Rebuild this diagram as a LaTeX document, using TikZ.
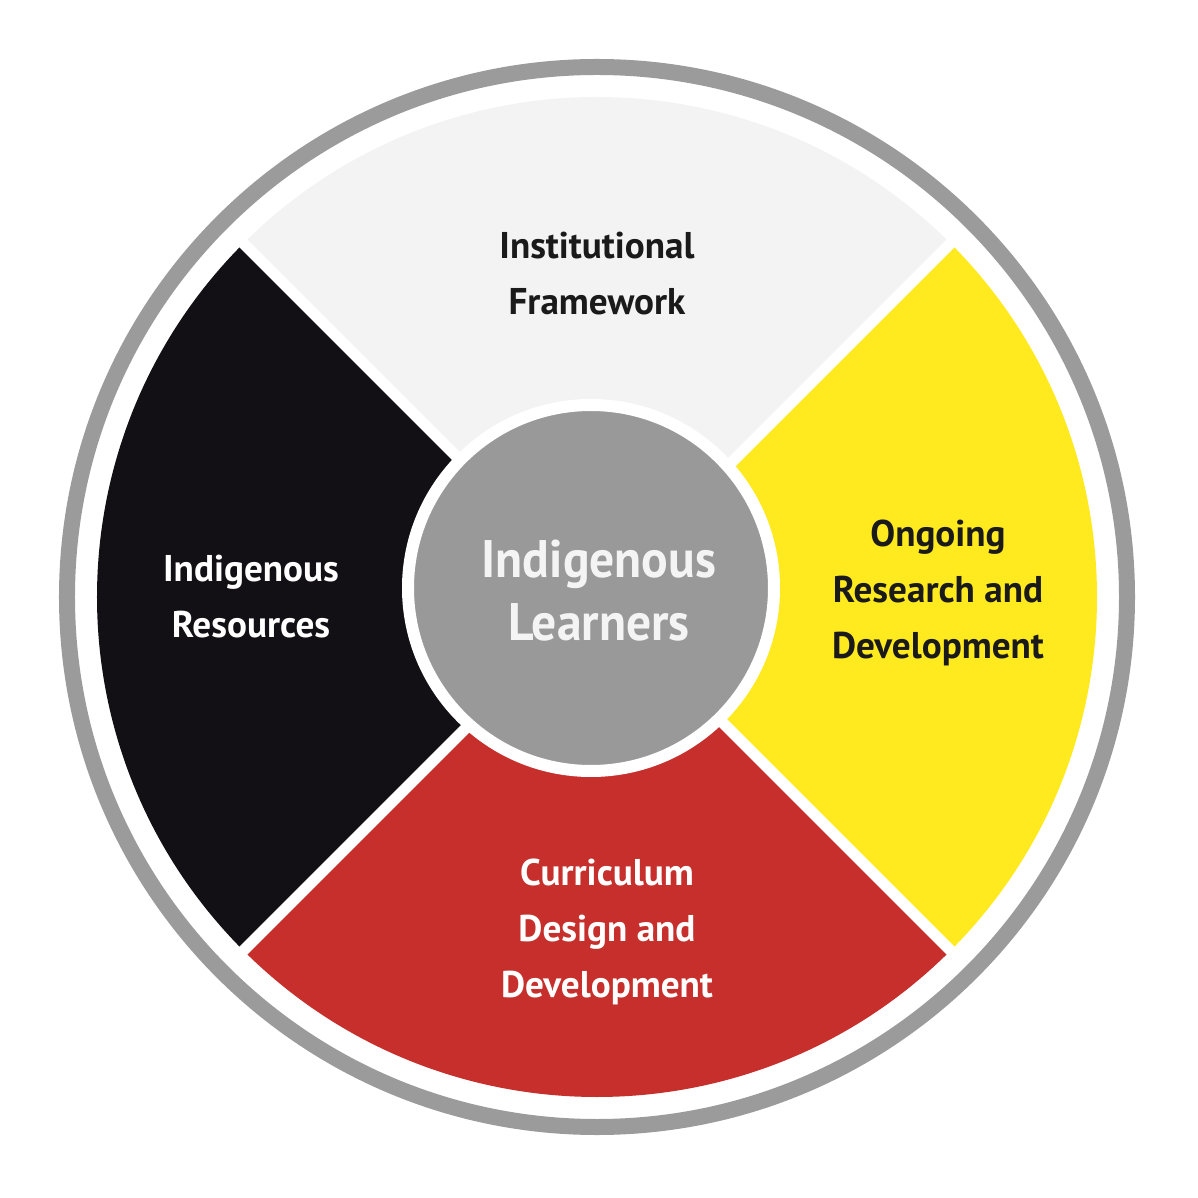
\documentclass[tikz,border=0pt]{standalone}
\usepackage{fontspec}
\setmainfont{PT Sans}
\newfontfamily\hubfont[FakeStretch=0.94]{PT Sans}
\usetikzlibrary{positioning}

\definecolor{ringgrey}{HTML}{9B9B9B}
\definecolor{hubgrey}{HTML}{999999}
\definecolor{eastyellow}{HTML}{FFE91F}
\definecolor{southred}{HTML}{C62F2B}
\definecolor{westblack}{HTML}{121014}
\definecolor{northwhite}{HTML}{F3F3F3}
\definecolor{inkblack}{HTML}{1A1A1A}
\definecolor{hubtext}{HTML}{F4F4F4}

\begin{document}
\begin{tikzpicture}[
    x=0.5pt, y=0.5pt,
    quarter/.style={font=\bfseries\fontsize{18.6}{28}\selectfont, align=center, inner sep=0pt},
    gap/.style={draw=white, line width=5.5pt},
    hub/.style={circle, fill=hubgrey, draw=white, line width=6pt, minimum size=183pt, inner sep=0pt},
    hublabel/.style={text=hubtext, align=center, inner sep=0pt, font=\hubfont\bfseries\fontsize{26.4}{31.5}\selectfont}
]
\useasboundingbox (-597,-601) rectangle (601,597);

% Outer ring
\draw[ringgrey, line width=8pt] (0,0) circle (530);

% Four quarters
\fill[northwhite] (0,0) -- (45:500) arc (45:135:500) -- cycle;
\fill[westblack] (0,0) -- (135:500) arc (135:225:500) -- cycle;
\fill[southred] (0,0) -- (225:500) arc (225:315:500) -- cycle;
\fill[eastyellow] (0,0) -- (-45:500) arc (-45:45:500) -- cycle;

% Gaps between quarters
\draw[gap] (135:505) -- (-45:505);
\draw[gap] (45:505) -- (225:505);

% Centre
\node[hub] (learners) at (-6,9) {};
\node[hublabel] (learnerstext) at (2,6) {Indigenous\\Learners};

% Quarter labels
\node[quarter, text=inkblack] (framework) at (0,323) {Institutional\\Framework};
\node[quarter, text=white] (resources) at (-346,0) {Indigenous\\Resources};
\node[quarter, text=inkblack] (research) at (341,4) {Ongoing\\Research and\\Development};
\node[quarter, text=white] (curriculum) at (10,-335) {Curriculum\\Design and\\Development};

\end{tikzpicture}
\end{document}
